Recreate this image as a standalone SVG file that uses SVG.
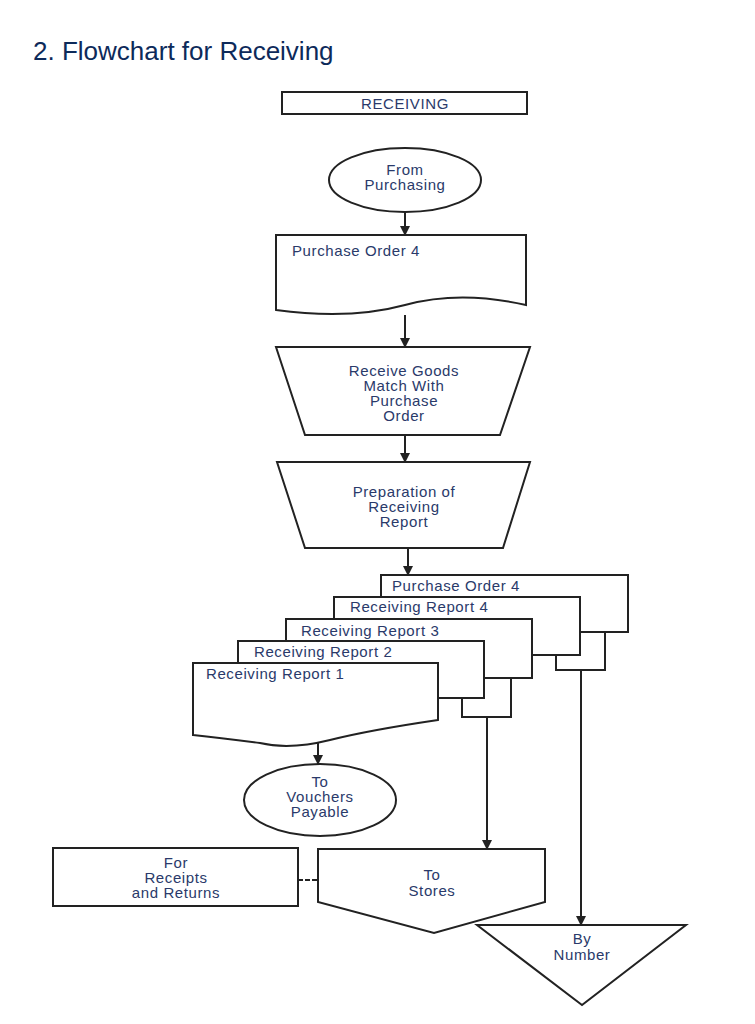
<svg xmlns="http://www.w3.org/2000/svg" width="755" height="1024" viewBox="0 0 755 1024">
<style>
.s{fill:#fff;stroke:#222;stroke-width:2}
.l{fill:none;stroke:#222;stroke-width:2}
.t{font-family:"Liberation Sans",Arial,sans-serif;font-size:15px;letter-spacing:0.6px;fill:#2a3a6a;text-anchor:middle}
.tl{font-family:"Liberation Sans",Arial,sans-serif;font-size:15px;letter-spacing:0.6px;fill:#2a3a6a}
</style>
<defs><marker id="a" viewBox="0 0 10 10" refX="9" refY="5" markerWidth="5" markerHeight="5" orient="auto"><path d="M0,0L10,5L0,10z" fill="#222"/></marker></defs>
<rect width="755" height="1024" fill="#fff"/>
<text x="33" y="60" font-family="Liberation Sans,Arial,sans-serif" font-size="26" fill="#0d2a5a">2. Flowchart for Receiving</text>
<g id="receiving"><rect class="s" x="282" y="92" width="245" height="22"/><text class="t" x="405" y="109">RECEIVING</text></g>
<g id="from"><ellipse class="s" cx="405" cy="180" rx="76" ry="32"/><text class="t" x="405" y="175">From</text><text class="t" x="405" y="190">Purchasing</text></g>
<g id="po"><path class="s" d="M276,235H526V305Q460,290 405,305T276,310Z"/><text class="tl" x="292" y="256">Purchase Order 4</text></g>
<g id="match"><path class="s" d="M276,347H530L500,435H305Z"/><text class="t" x="404" y="376">Receive Goods</text><text class="t" x="404" y="391">Match With</text><text class="t" x="404" y="406">Purchase</text><text class="t" x="404" y="421">Order</text></g>
<g id="prep"><path class="s" d="M277,462H530L503,548H305Z"/><text class="t" x="404" y="497">Preparation of</text><text class="t" x="404" y="512">Receiving</text><text class="t" x="404" y="527">Report</text></g>
<g id="po4"><rect class="s" x="381" y="575" width="247" height="57"/><text class="tl" x="392" y="591">Purchase Order 4</text></g>
<g id="rr4"><rect class="s" x="334" y="597" width="246" height="58"/><text class="tl" x="350" y="612">Receiving Report 4</text></g>
<g id="rr3"><rect class="s" x="286" y="619" width="246" height="59"/><text class="tl" x="301" y="636">Receiving Report 3</text></g>
<g id="rr2"><rect class="s" x="238" y="641" width="246" height="57"/><text class="tl" x="254" y="657">Receiving Report 2</text></g>
<g id="rr1"><path class="s" d="M193,663H438V720Q370,730 330,740T260,743Q220,738 193,735Z"/><text class="tl" x="206" y="679">Receiving Report 1</text></g>
<g id="vouchers"><ellipse class="s" cx="320" cy="800" rx="76" ry="36"/><text class="t" x="320" y="787">To</text><text class="t" x="320" y="802">Vouchers</text><text class="t" x="320" y="817">Payable</text></g>
<g id="for"><rect class="s" x="53" y="848" width="245" height="58"/><text class="t" x="176" y="868">For</text><text class="t" x="176" y="883">Receipts</text><text class="t" x="176" y="898">and Returns</text></g>
<g id="stores"><path class="s" d="M318,849H545V902L434,933L318,902Z"/><text class="t" x="432" y="880">To</text><text class="t" x="432" y="896">Stores</text></g>
<g id="bynumber"><path class="s" d="M477,925H686L582,1005Z"/><text class="t" x="582" y="944">By</text><text class="t" x="582" y="960">Number</text></g>
<g id="connectors">
<path class="l" d="M405,213V235" marker-end="url(#a)"/>
<path class="l" d="M405,315V347" marker-end="url(#a)"/>
<path class="l" d="M405,435V462" marker-end="url(#a)"/>
<path class="l" d="M408,548V575" marker-end="url(#a)"/>
<path class="l" d="M318,742V764" marker-end="url(#a)"/>
<path class="l" d="M462,698V717H511V678"/>
<path class="l" d="M487,717V849" marker-end="url(#a)"/>
<path class="l" d="M556,655V670H605V632"/>
<path class="l" d="M581,670V925" marker-end="url(#a)"/>
<path class="l" d="M298,880H318" stroke-dasharray="5,2"/>
</g>
</svg>
